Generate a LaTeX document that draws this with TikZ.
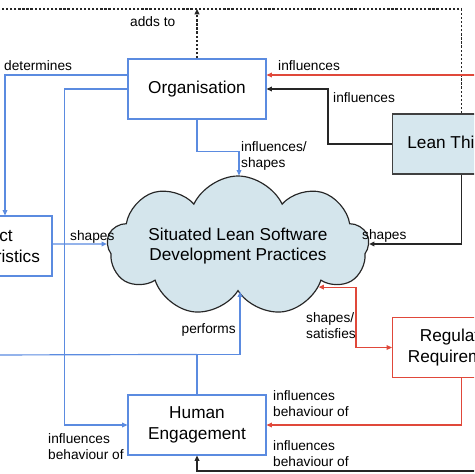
\documentclass[tikz,border=0pt]{standalone}
\usepackage{fontspec}
\setmainfont{Liberation Sans}
\usetikzlibrary{arrows.meta,shapes.symbols,calc}

\definecolor{lineblue}{HTML}{5B8BE0}
\definecolor{linered}{HTML}{E0483A}
\definecolor{cloudfill}{HTML}{D4E5EC}
\definecolor{leanfill}{HTML}{D6E7EE}

\tikzset{
  box/.style={draw=lineblue, fill=white, line width=1pt, minimum width=4.14cm, minimum height=1.8cm,
    align=center, inner sep=2pt, font=\fontsize{14.7}{18}\selectfont},
  lbl/.style={inner sep=0pt, align=left, font=\fontsize{11.7}{13.6}\selectfont},
  blueline/.style={draw=lineblue, line width=1pt},
  redline/.style={draw=linered, line width=1pt},
  darkline/.style={draw=black!85, line width=1pt},
}

\begin{document}
\begin{tikzpicture}[x=0.03cm, y=-0.03cm, >={Triangle[length=4.5pt,width=4pt]}]
  \useasboundingbox (0,0) rectangle (474,474);
  \clip (0,0) rectangle (474,474);

  % boxes
  \node[box] (org) at (197,89) {Organisation};
  \node[box] (human) at (197,425) {Human\\Engagement};
  \node[box] (prod) at (-17,246) {Product\\Characteristics};
  \node[box, draw=black!75, fill=leanfill] (lean) at (461.5,144) {Lean Thinking};
  \node[box, draw=linered] (reg) at (461.5,347.5) {Regulatory\\Requirements};
  \node[cloud, draw=black!85, fill=cloudfill, line width=1pt, cloud puffs=9, cloud puff arc=130,
    cloud ignores aspect, minimum width=7.05cm, minimum height=4.2cm, align=center,
    font=\fontsize{14.7}{17}\selectfont] (slsdp) at (238,246) {Situated Lean Software\\Development Practices};

  % ends outside the picture
  \coordinate (westtop) at (-10,9);
  \coordinate (westmid) at (-10,355);
  \coordinate (eastred) at (490,75);
  \coordinate (eastbot) at (490,471);
  \coordinate (satturn) at ($(reg.west)+(-36,0)$);
  \coordinate (perf) at ($(human.north)+(0,-40)$);

  % adds to
  \draw[darkline, dash pattern=on 2pt off 1.5pt] (lean.north) |- (westtop);
  \draw[darkline, dash pattern=on 2pt off 1.5pt, ->] (org.north) -- (org.north |- westtop);
  \node[lbl, anchor=west] (l-adds) at (130,22) {adds to};

  % blue arrows from organisation
  \draw[blueline, ->] ($(org.west)+(0,-14)$) -| ($(prod.north)+(22,0)$);
  \node[lbl, anchor=west] (l-det) at (4,66) {determines};
  \draw[blueline, ->] (org.west) -- ++(-63,0) |- (human.west);
  \node[lbl, anchor=north west] (l-behblue) at (48,433) {influences\\behaviour of};
  \draw[blueline, ->] (org.south) -- ++(0,32) -| ($(slsdp.north)+(1,0)$);
  \node[lbl, anchor=north west] (l-infshp) at (241,141) {influences/\\shapes};

  % blue arrows into the cloud
  \draw[blueline, ->] ($(prod.east)+(0,-2)$) -- ($(slsdp.west)+(0,-2)$);
  \node[lbl, anchor=west] (l-shpblue) at (70,237) {shapes};
  \draw[blueline] (westmid) -- (perf);
  \draw[blueline, ->] (human.north) -- (perf) -| ($(slsdp.south)+(2,0)$);
  \node[lbl, anchor=east] (l-perf) at (236,330) {performs};

  % lean thinking
  \draw[redline, ->] (eastred) -- ($(org.east)+(0,-14)$);
  \node[lbl, anchor=west] (l-infred) at (278,66) {influences};
  \draw[darkline, ->] (lean.west) -- ++(-64,0) |- (org.east);
  \node[lbl, anchor=west] (l-infdark) at (333,98) {influences};
  \draw[darkline, ->] (lean.south) |- ($(slsdp.east)+(0,-2)$);
  \node[lbl, anchor=west] (l-shpdark) at (362,236) {shapes};

  % regulatory requirements
  \draw[redline, <->] (slsdp.-27) -| (satturn) -- (reg.west);
  \node[lbl, anchor=north west] (l-sat) at (306,312) {shapes/\\satisfies};
  \draw[redline, ->] (reg.south) |- (human.east);
  \node[lbl, anchor=north west] (l-behred) at (273,390) {influences\\behaviour of};

  % bottom
  \draw[darkline, line width=1.4pt, ->] (eastbot) -| (human.south);
  \node[lbl, anchor=north west] (l-behdark) at (273,440) {influences\\behaviour of};
\end{tikzpicture}
\end{document}
